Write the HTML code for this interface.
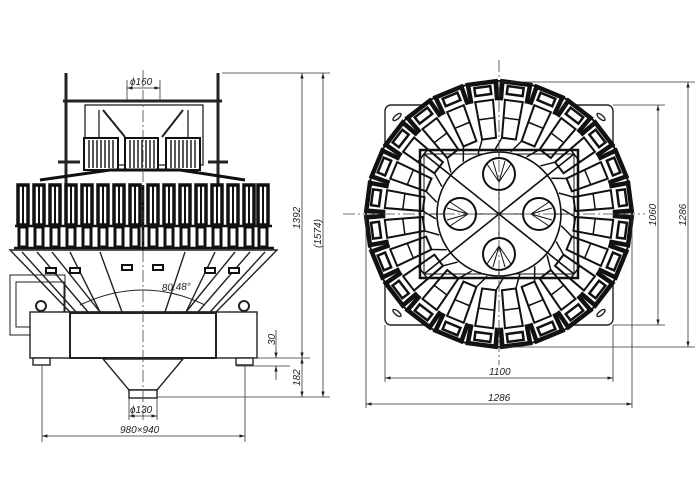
<!DOCTYPE html>
<html><head><meta charset="utf-8"><style>
html,body{margin:0;padding:0;background:#fff}
svg{display:block}
text{font-family:"Liberation Sans",sans-serif;font-style:italic;font-size:10px;fill:#222}
</style></head><body>
<svg width="700" height="500" viewBox="0 0 700 500" xmlns="http://www.w3.org/2000/svg">
<defs>
<marker id="a" viewBox="0 0 10 10" refX="10" refY="5" markerWidth="7" markerHeight="7" orient="auto-start-reverse"><path d="M0,2 L10,5 L0,8 z" fill="#222"/></marker>
<g id="bk">
<polygon points="-9,-114 9,-114 7,-76 -7,-76" fill="#fff" stroke="#111" stroke-width="2"/>
<line x1="-8" y1="-96" x2="8" y2="-96" stroke="#111" stroke-width="1.5"/>
<path d="M-13,-113 L-14,-132 L14,-132 L13,-113" fill="none" stroke="#111" stroke-width="4.5"/>
<rect x="-8" y="-128" width="16" height="8" fill="#fff" stroke="#111" stroke-width="2.5"/>
<line x1="-7" y1="-76" x2="-13" y2="-62" stroke="#111" stroke-width="1.5"/>
</g>
<g id="lb">
<rect x="0" y="0" width="10" height="40" fill="#fff" stroke="#111" stroke-width="3.5"/>
<line x1="5" y1="0" x2="5" y2="40" stroke="#111" stroke-width="2"/>
<rect x="1" y="42" width="8" height="20" fill="#fff" stroke="#111" stroke-width="3"/>
</g>
</defs>

<!-- ===== LEFT ELEVATION ===== -->
<g stroke="#222" fill="none" stroke-width="1.3">
<line x1="66" y1="73" x2="66" y2="190" stroke-width="3"/>
<line x1="218" y1="73" x2="218" y2="190" stroke-width="3"/>
<line x1="63" y1="101" x2="222" y2="101" stroke-width="3"/>
<rect x="85" y="105" width="118" height="60"/>
<line x1="103" y1="110" x2="125" y2="137" stroke-width="2"/>
<line x1="183" y1="110" x2="162" y2="137" stroke-width="2"/>
<line x1="99" y1="110" x2="99" y2="137"/>
<line x1="188" y1="110" x2="188" y2="137"/>
<line x1="58" y1="162" x2="80" y2="162" stroke-width="3"/>
<line x1="208" y1="162" x2="228" y2="162" stroke-width="3"/>
</g>
<g stroke="#111" fill="#fff" stroke-width="2">
<rect x="84" y="138" width="34" height="32"/>
<rect x="125" y="138" width="33" height="32"/>
<rect x="166" y="138" width="34" height="32"/>
</g>
<g stroke="#111" stroke-width="1.4">
<path d="M89,140v28M93,140v28M97,140v28M101,140v28M105,140v28M109,140v28M113,140v28M130,140v28M134,140v28M138,140v28M142,140v28M146,140v28M150,140v28M154,140v28M171,140v28M175,140v28M179,140v28M183,140v28M187,140v28M191,140v28M195,140v28"/>
</g>
<path d="M40,180 L110,170 L180,170 L245,180" stroke="#111" stroke-width="3" fill="none"/>
<g>
<use href="#lb" x="18" y="185"/><use href="#lb" x="34" y="185"/><use href="#lb" x="50" y="185"/><use href="#lb" x="66" y="185"/><use href="#lb" x="82" y="185"/><use href="#lb" x="98" y="185"/><use href="#lb" x="114" y="185"/><use href="#lb" x="130" y="185"/><use href="#lb" x="148" y="185"/><use href="#lb" x="164" y="185"/><use href="#lb" x="180" y="185"/><use href="#lb" x="196" y="185"/><use href="#lb" x="212" y="185"/><use href="#lb" x="228" y="185"/><use href="#lb" x="244" y="185"/><use href="#lb" x="258" y="185"/>
</g>
<g stroke="#111" fill="none">
<line x1="15" y1="226" x2="272" y2="226" stroke-width="2.5"/>
<line x1="14" y1="248" x2="274" y2="248" stroke-width="2.5"/>
<line x1="143" y1="185" x2="143" y2="310" stroke-width="2.5"/>
</g>
<g stroke="#222" fill="none" stroke-width="1.4">
<polygon points="10,250 277,250 216,312 70,312" fill="#fff"/>
<line x1="22" y1="252" x2="76" y2="312"/><line x1="37" y1="252" x2="88" y2="312"/><line x1="52" y1="252" x2="100" y2="312"/>
<line x1="70" y1="252" x2="100" y2="312"/><line x1="100" y1="252" x2="122" y2="312"/>
<line x1="265" y1="252" x2="210" y2="312"/><line x1="250" y1="252" x2="198" y2="312"/><line x1="235" y1="252" x2="186" y2="312"/>
<line x1="215" y1="252" x2="186" y2="312"/><line x1="185" y1="252" x2="165" y2="312"/>
<path d="M80,305 Q143,275 205,305" stroke-width="1"/>
<circle cx="41" cy="306" r="5" stroke-width="2"/><circle cx="244" cy="306" r="5" stroke-width="2"/>
<rect x="10" y="275" width="55" height="60" stroke-width="1"/>
<rect x="16" y="282" width="48" height="45" stroke-width="1"/>
</g>
<text x="162" y="291" transform="rotate(-3 162 291)">80.48°</text>
<g stroke="#111" stroke-width="2" fill="#fff">
<rect x="122" y="265" width="10" height="5"/><rect x="153" y="265" width="10" height="5"/>
<rect x="46" y="268" width="10" height="5"/><rect x="70" y="268" width="10" height="5"/>
<rect x="205" y="268" width="10" height="5"/><rect x="229" y="268" width="10" height="5"/>
</g>
<g stroke="#222" fill="#fff" stroke-width="1.4">
<rect x="30" y="312" width="227" height="46"/>
<rect x="70" y="313" width="146" height="45" stroke-width="2"/>
<rect x="33" y="358" width="17" height="7"/><rect x="236" y="358" width="17" height="7"/>
<polygon points="103,359 183,359 157,390 129,390"/>
<rect x="129" y="390" width="28" height="8"/>
</g>
<line x1="143" y1="70" x2="143" y2="420" stroke="#444" stroke-width="0.8" stroke-dasharray="12,3,2,3"/>
<g stroke="#333" stroke-width="0.8" fill="none">
<line x1="222" y1="73" x2="330" y2="73"/>
<line x1="250" y1="358" x2="310" y2="358"/>
<line x1="236" y1="366" x2="290" y2="366"/>
<line x1="157" y1="397" x2="330" y2="397"/>
<line x1="302" y1="73" x2="302" y2="358" marker-start="url(#a)" marker-end="url(#a)"/>
<line x1="323" y1="73" x2="323" y2="397" marker-start="url(#a)" marker-end="url(#a)"/>
<line x1="276" y1="330" x2="276" y2="358" marker-end="url(#a)"/>
<line x1="276" y1="380" x2="276" y2="366" marker-end="url(#a)"/>
<line x1="302" y1="358" x2="302" y2="397" marker-start="url(#a)" marker-end="url(#a)"/>
<line x1="127" y1="80" x2="127" y2="100"/><line x1="160" y1="80" x2="160" y2="100"/>
<line x1="127" y1="88" x2="160" y2="88" marker-start="url(#a)" marker-end="url(#a)"/>
<line x1="129" y1="398" x2="129" y2="420"/><line x1="157" y1="398" x2="157" y2="420"/>
<line x1="129" y1="416" x2="157" y2="416" marker-start="url(#a)" marker-end="url(#a)"/>
<line x1="42" y1="366" x2="42" y2="442"/><line x1="245" y1="366" x2="245" y2="442"/>
<line x1="42" y1="436" x2="245" y2="436" marker-start="url(#a)" marker-end="url(#a)"/>
</g>
<text x="130" y="85">ϕ160</text>
<text x="130" y="413">ϕ130</text>
<text x="120" y="433">980×940</text>
<text x="300" y="229" transform="rotate(-90 300 229)">1392</text>
<text x="321" y="248" transform="rotate(-90 321 248)">(1574)</text>
<text x="275" y="345" transform="rotate(-90 275 345)">30</text>
<text x="300" y="386" transform="rotate(-90 300 386)">182</text>

<!-- ===== RIGHT PLAN ===== -->
<g stroke="#222" fill="#fff" stroke-width="1.4">
<rect x="385" y="105" width="228" height="220" rx="6"/>
<ellipse cx="397" cy="117" rx="5" ry="2" transform="rotate(-40 397 117)"/>
<ellipse cx="601" cy="117" rx="5" ry="2" transform="rotate(40 601 117)"/>
<ellipse cx="397" cy="313" rx="5" ry="2" transform="rotate(40 397 313)"/>
<ellipse cx="601" cy="313" rx="5" ry="2" transform="rotate(-40 601 313)"/>
<circle cx="499" cy="214" r="133" stroke="#111" stroke-width="2"/>
</g>
<g>
<use href="#bk" transform="translate(499 214) rotate(7.5)"/><use href="#bk" transform="translate(499 214) rotate(22.5)"/><use href="#bk" transform="translate(499 214) rotate(37.5)"/><use href="#bk" transform="translate(499 214) rotate(52.5)"/><use href="#bk" transform="translate(499 214) rotate(67.5)"/><use href="#bk" transform="translate(499 214) rotate(82.5)"/><use href="#bk" transform="translate(499 214) rotate(97.5)"/><use href="#bk" transform="translate(499 214) rotate(112.5)"/><use href="#bk" transform="translate(499 214) rotate(127.5)"/><use href="#bk" transform="translate(499 214) rotate(142.5)"/><use href="#bk" transform="translate(499 214) rotate(157.5)"/><use href="#bk" transform="translate(499 214) rotate(172.5)"/><use href="#bk" transform="translate(499 214) rotate(187.5)"/><use href="#bk" transform="translate(499 214) rotate(202.5)"/><use href="#bk" transform="translate(499 214) rotate(217.5)"/><use href="#bk" transform="translate(499 214) rotate(232.5)"/><use href="#bk" transform="translate(499 214) rotate(247.5)"/><use href="#bk" transform="translate(499 214) rotate(262.5)"/><use href="#bk" transform="translate(499 214) rotate(277.5)"/><use href="#bk" transform="translate(499 214) rotate(292.5)"/><use href="#bk" transform="translate(499 214) rotate(307.5)"/><use href="#bk" transform="translate(499 214) rotate(322.5)"/><use href="#bk" transform="translate(499 214) rotate(337.5)"/><use href="#bk" transform="translate(499 214) rotate(352.5)"/>
</g>
<g stroke="#111" fill="none" stroke-width="1.6">
<rect x="420" y="150" width="158" height="128" stroke-width="2.5"/>
<rect x="424" y="154" width="150" height="120" stroke-width="1"/>
<circle cx="499" cy="214" r="62" fill="#fff"/>
<line x1="424" y1="154" x2="574" y2="274"/><line x1="574" y1="154" x2="424" y2="274"/>
<line x1="499" y1="152" x2="499" y2="276" stroke-width="1"/>
<line x1="430" y1="214" x2="568" y2="214" stroke-width="1"/>
</g>
<g stroke="#111" fill="#fff" stroke-width="2">
<circle cx="499" cy="174" r="16"/><circle cx="460" cy="214" r="16"/><circle cx="539" cy="214" r="16"/><circle cx="499" cy="254" r="16"/>
</g>
<g stroke="#111" stroke-width="1" fill="none">
<path d="M487,164 L499,182 L511,164 M493,161 L499,182 L505,161 M487,264 L499,246 L511,264 M493,267 L499,246 L505,267 M450,202 L468,214 L450,226 M447,208 L468,214 L447,220 M549,202 L531,214 L549,226 M552,208 L531,214 L552,220"/>
</g>
<g stroke="#444" stroke-width="0.8" stroke-dasharray="12,3,2,3">
<line x1="499" y1="60" x2="499" y2="365"/>
<line x1="343" y1="214" x2="645" y2="214"/>
</g>
<g stroke="#333" stroke-width="0.8" fill="none">
<line x1="499" y1="82" x2="695" y2="82"/>
<line x1="499" y1="347" x2="695" y2="347"/>
<line x1="613" y1="105" x2="665" y2="105"/>
<line x1="613" y1="325" x2="665" y2="325"/>
<line x1="658" y1="105" x2="658" y2="325" marker-start="url(#a)" marker-end="url(#a)"/>
<line x1="688" y1="82" x2="688" y2="347" marker-start="url(#a)" marker-end="url(#a)"/>
<line x1="385" y1="325" x2="385" y2="382"/><line x1="613" y1="325" x2="613" y2="382"/>
<line x1="366" y1="214" x2="366" y2="408"/><line x1="632" y1="214" x2="632" y2="408"/>
<line x1="385" y1="378" x2="613" y2="378" marker-start="url(#a)" marker-end="url(#a)"/>
<line x1="366" y1="404" x2="632" y2="404" marker-start="url(#a)" marker-end="url(#a)"/>
</g>
<text x="489" y="375">1100</text>
<text x="488" y="401">1286</text>
<text x="656" y="226" transform="rotate(-90 656 226)">1060</text>
<text x="686" y="226" transform="rotate(-90 686 226)">1286</text>
</svg>
</body></html>
